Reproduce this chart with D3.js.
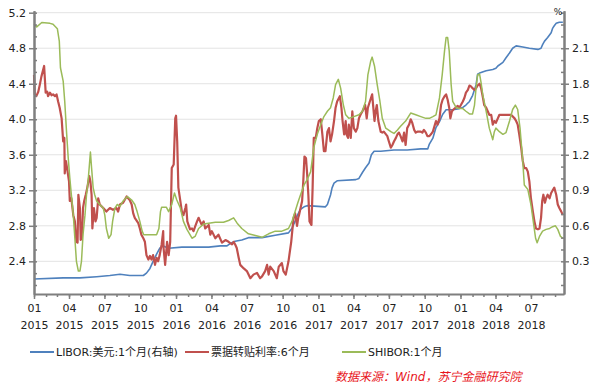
<!DOCTYPE html>
<html><head><meta charset="utf-8">
<script src="https://cdn.jsdelivr.net/npm/d3@7"></script>
<style>
body{margin:0;background:#fff;}
text{font-family:"DejaVu Sans","Noto Sans CJK SC",sans-serif;}
</style>
</head><body>
<svg id="c" width="601" height="384"></svg>
<script>
// ---------- DATA ----------
const seriesNames = ["LIBOR:美元:1个月(右轴)", "票据转贴利率:6个月", "SHIBOR:1个月"];
const leftTicks = [2.4, 2.8, 3.2, 3.6, 4.0, 4.4, 4.8, 5.2];
const rightTicks = [0.3, 0.6, 0.9, 1.2, 1.5, 1.8, 2.1];
const sourceText = "数据来源：Wind，苏宁金融研究院";

const libor = [
["2015-01-01",0.15],["2015-03-17",0.16],["2015-04-29",0.16],["2015-06-11",0.17],["2015-07-15",0.18],
["2015-08-10",0.19],["2015-09-04",0.18],["2015-10-09",0.18],["2015-10-17",0.20],["2015-10-26",0.24],
["2015-11-03",0.30],["2015-11-12",0.36],["2015-11-20",0.41],["2015-11-29",0.43],["2015-12-13",0.41],
["2016-01-16",0.42],["2016-02-19",0.42],["2016-03-25",0.42],["2016-04-24",0.43],["2016-05-11",0.43],
["2016-05-19",0.45],["2016-06-01",0.47],["2016-06-18",0.48],["2016-07-05",0.50],["2016-08-09",0.50],
["2016-09-12",0.52],["2016-10-16",0.54],["2016-10-25",0.58],["2016-11-02",0.64],["2016-11-08",0.69],
["2016-11-16",0.74],["2016-11-25",0.76],["2016-12-03",0.77],["2017-01-19",0.76],["2017-01-24",0.78],
["2017-01-28",0.82],["2017-02-01",0.86],["2017-02-05",0.92],["2017-02-10",0.96],["2017-02-18",0.98],
["2017-04-07",0.99],["2017-04-15",1.00],["2017-04-24",1.05],["2017-05-02",1.09],["2017-05-11",1.13],
["2017-05-17",1.20],["2017-05-24",1.23],["2017-06-10",1.23],["2017-07-14",1.24],["2017-08-17",1.24],
["2017-09-21",1.25],["2017-10-09",1.25],["2017-10-13",1.29],["2017-10-22",1.34],["2017-10-30",1.43],
["2017-11-08",1.48],["2017-11-16",1.54],["2017-11-25",1.58],["2017-12-12",1.58],["2017-12-29",1.59],
["2018-01-07",1.60],["2018-01-15",1.62],["2018-01-24",1.65],["2018-02-01",1.70],["2018-02-10",1.79],
["2018-02-14",1.88],["2018-02-19",1.89],["2018-03-08",1.91],["2018-03-25",1.92],["2018-04-02",1.93],
["2018-04-07",1.95],["2018-04-20",1.98],["2018-04-28",2.02],["2018-05-07",2.06],["2018-05-15",2.10],
["2018-05-24",2.12],["2018-06-10",2.11],["2018-06-27",2.10],["2018-07-19",2.09],["2018-07-27",2.10],
["2018-07-31",2.13],["2018-08-05",2.16],["2018-08-13",2.19],["2018-08-22",2.23],["2018-08-26",2.27],
["2018-08-30",2.29],["2018-09-04",2.31],["2018-09-12",2.32],["2018-09-21",2.32]
];

const billRate = [
["2015-01-01",4.50],["2015-01-03",4.28],["2015-01-07",4.26],["2015-01-12",4.31],["2015-01-16",4.39],
["2015-01-20",4.48],["2015-01-27",4.60],["2015-01-31",4.30],["2015-02-04",4.31],["2015-02-06",4.26],
["2015-02-11",4.30],["2015-02-15",4.27],["2015-02-19",4.28],["2015-02-24",4.26],["2015-02-28",4.28],
["2015-03-04",4.20],["2015-03-08",4.13],["2015-03-13",4.01],["2015-03-17",3.75],["2015-03-20",3.79],
["2015-03-21",3.39],["2015-03-24",3.53],["2015-03-27",3.45],["2015-04-01",3.30],["2015-04-03",3.08],
["2015-04-07",3.11],["2015-04-12",2.92],["2015-04-16",2.85],["2015-04-20",2.62],["2015-04-23",2.61],
["2015-04-25",3.15],["2015-04-29",3.00],["2015-05-01",2.64],["2015-05-04",2.66],["2015-05-07",3.00],
["2015-05-10",3.08],["2015-05-14",3.15],["2015-05-18",3.23],["2015-05-23",3.36],["2015-05-26",3.30],
["2015-05-29",3.15],["2015-05-31",2.77],["2015-06-04",3.00],["2015-06-08",2.85],["2015-06-11",2.89],
["2015-06-15",3.11],["2015-06-19",3.04],["2015-06-28",3.00],["2015-07-06",2.96],["2015-07-15",3.00],
["2015-07-23",2.98],["2015-08-01",3.00],["2015-08-05",2.96],["2015-08-10",3.04],["2015-08-18",3.06],
["2015-08-27",3.13],["2015-09-04",3.09],["2015-09-09",3.04],["2015-09-13",2.94],["2015-09-17",2.89],
["2015-09-26",2.83],["2015-09-30",2.77],["2015-10-04",2.70],["2015-10-09",2.66],["2015-10-13",2.62],
["2015-10-17",2.47],["2015-10-22",2.42],["2015-10-26",2.46],["2015-10-30",2.42],["2015-11-03",2.47],
["2015-11-08",2.36],["2015-11-12",2.44],["2015-11-16",2.40],["2015-11-20",2.47],["2015-11-25",2.59],
["2015-11-29",2.74],["2015-11-30",2.55],["2015-12-04",2.36],["2015-12-09",2.62],["2015-12-13",2.47],
["2015-12-17",2.62],["2015-12-21",3.45],["2015-12-26",3.49],["2015-12-30",4.01],["2016-01-01",4.04],
["2016-01-04",3.75],["2016-01-07",3.23],["2016-01-12",3.08],["2016-01-16",2.96],["2016-01-20",2.92],
["2016-01-25",3.00],["2016-01-27",3.04],["2016-01-30",2.85],["2016-02-02",2.81],["2016-02-06",2.76],
["2016-02-11",2.77],["2016-02-15",2.74],["2016-02-19",2.79],["2016-02-24",2.85],["2016-02-28",2.89],
["2016-03-03",2.85],["2016-03-07",2.81],["2016-03-12",2.85],["2016-03-16",2.77],["2016-03-25",2.81],
["2016-03-29",2.70],["2016-04-02",2.74],["2016-04-11",2.66],["2016-04-19",2.70],["2016-04-28",2.61],
["2016-05-07",2.64],["2016-05-15",2.62],["2016-05-24",2.59],["2016-05-28",2.62],["2016-06-01",2.59],
["2016-06-05",2.55],["2016-06-10",2.44],["2016-06-14",2.36],["2016-06-23",2.32],["2016-07-01",2.29],
["2016-07-10",2.21],["2016-07-18",2.25],["2016-07-27",2.27],["2016-08-04",2.21],["2016-08-09",2.23],
["2016-08-17",2.29],["2016-08-22",2.36],["2016-08-26",2.25],["2016-08-30",2.34],["2016-09-08",2.29],
["2016-09-16",2.21],["2016-09-21",2.34],["2016-09-29",2.38],["2016-10-03",2.29],["2016-10-09",2.25],
["2016-10-16",2.40],["2016-10-23",2.62],["2016-10-29",2.89],["2016-11-02",2.94],["2016-11-07",2.80],
["2016-11-10",2.89],["2016-11-12",2.92],["2016-11-16",3.00],["2016-11-20",3.08],["2016-11-23",3.30],
["2016-11-26",3.58],["2016-11-30",3.56],["2016-12-03",3.38],["2016-12-06",3.15],["2016-12-09",2.85],
["2016-12-14",2.81],["2016-12-17",3.23],["2016-12-20",3.79],["2016-12-25",3.79],["2016-12-29",3.90],
["2017-01-02",3.98],["2017-01-07",4.00],["2017-01-11",3.83],["2017-01-15",3.64],["2017-01-19",3.64],
["2017-01-24",3.86],["2017-01-28",3.90],["2017-02-01",3.75],["2017-02-05",3.83],["2017-02-10",3.98],
["2017-02-14",4.13],["2017-02-18",4.20],["2017-02-25",4.26],["2017-03-01",4.13],["2017-03-04",3.98],
["2017-03-08",3.83],["2017-03-12",3.98],["2017-03-14",3.83],["2017-03-18",3.79],["2017-03-20",3.94],
["2017-03-25",3.79],["2017-03-29",4.09],["2017-04-02",3.90],["2017-04-07",3.86],["2017-04-11",3.90],
["2017-04-15",4.01],["2017-04-19",4.05],["2017-04-24",4.09],["2017-04-28",4.13],["2017-05-01",4.16],
["2017-05-05",4.01],["2017-05-08",4.13],["2017-05-13",4.20],["2017-05-19",4.28],["2017-05-22",4.13],
["2017-05-25",3.98],["2017-05-28",4.09],["2017-05-31",4.16],["2017-06-04",3.98],["2017-06-10",3.86],
["2017-06-14",3.85],["2017-06-18",3.86],["2017-06-27",3.81],["2017-07-01",3.75],["2017-07-06",3.68],
["2017-07-10",3.71],["2017-07-14",3.75],["2017-07-19",3.79],["2017-07-23",3.83],["2017-07-27",3.85],
["2017-07-31",3.81],["2017-08-05",3.75],["2017-08-09",3.85],["2017-08-13",3.71],["2017-08-17",3.90],
["2017-08-22",3.94],["2017-08-26",4.00],["2017-08-30",3.96],["2017-09-04",3.88],["2017-09-08",3.85],
["2017-09-12",3.86],["2017-09-21",3.86],["2017-09-25",3.85],["2017-09-29",3.88],["2017-10-04",3.85],
["2017-10-08",3.81],["2017-10-13",3.81],["2017-10-17",3.83],["2017-10-22",3.86],["2017-10-26",3.92],
["2017-10-30",3.98],["2017-11-03",3.94],["2017-11-08",4.01],["2017-11-12",4.16],["2017-11-16",4.22],
["2017-11-21",4.26],["2017-11-25",4.28],["2017-11-29",4.22],["2017-12-03",4.13],["2017-12-06",4.01],
["2017-12-10",4.09],["2017-12-14",4.11],["2017-12-19",4.13],["2017-12-25",4.15],["2017-12-29",4.13],
["2018-01-02",4.16],["2018-01-07",4.20],["2018-01-11",4.24],["2018-01-15",4.30],["2018-01-20",4.33],
["2018-01-24",4.38],["2018-01-28",4.37],["2018-02-01",4.35],["2018-02-06",4.33],["2018-02-10",4.35],
["2018-02-14",4.38],["2018-02-19",4.40],["2018-02-23",4.35],["2018-02-27",4.26],["2018-03-03",4.16],
["2018-03-08",4.13],["2018-03-12",4.09],["2018-03-16",4.05],["2018-03-21",4.05],["2018-03-25",3.94],
["2018-03-29",3.98],["2018-04-02",3.96],["2018-04-07",4.01],["2018-04-11",4.05],["2018-04-20",4.05],
["2018-04-28",4.05],["2018-05-11",4.05],["2018-05-20",4.01],["2018-05-24",3.98],["2018-05-28",3.94],
["2018-06-01",3.83],["2018-06-06",3.68],["2018-06-10",3.53],["2018-06-14",3.45],["2018-06-19",3.45],
["2018-06-23",3.41],["2018-06-27",3.30],["2018-07-01",3.11],["2018-07-06",2.96],["2018-07-10",2.85],
["2018-07-14",2.77],["2018-07-19",2.76],["2018-07-23",2.77],["2018-07-27",2.89],["2018-07-30",3.08],
["2018-08-02",3.15],["2018-08-06",3.06],["2018-08-09",3.11],["2018-08-13",3.15],["2018-08-18",3.11],
["2018-08-22",3.17],["2018-08-26",3.20],["2018-08-30",3.23],["2018-09-04",3.15],["2018-09-08",3.04],
["2018-09-12",3.00],["2018-09-17",2.96],["2018-09-21",2.92]
];

const shibor = [
["2015-01-01",5.07],["2015-01-08",5.04],["2015-01-21",5.09],["2015-02-11",5.08],["2015-02-19",5.07],
["2015-03-02",5.02],["2015-03-07",4.88],["2015-03-10",4.58],["2015-03-17",4.43],["2015-03-21",4.20],
["2015-03-26",3.83],["2015-03-30",3.56],["2015-04-03",3.34],["2015-04-07",3.15],["2015-04-12",2.92],
["2015-04-16",2.66],["2015-04-20",2.40],["2015-04-25",2.29],["2015-04-29",2.29],["2015-05-03",2.40],
["2015-05-07",2.70],["2015-05-12",2.92],["2015-05-16",3.15],["2015-05-20",3.30],["2015-05-26",3.63],
["2015-05-29",3.45],["2015-06-02",3.23],["2015-06-06",3.15],["2015-06-11",3.08],["2015-06-19",3.04],
["2015-06-28",3.00],["2015-07-02",2.92],["2015-07-06",2.77],["2015-07-12",2.66],["2015-07-18",2.70],
["2015-07-22",2.85],["2015-07-28",3.00],["2015-08-03",3.04],["2015-08-10",3.02],["2015-08-18",3.08],
["2015-08-29",3.13],["2015-09-09",3.09],["2015-09-17",3.04],["2015-09-23",2.96],["2015-09-30",2.85],
["2015-10-06",2.74],["2015-10-10",2.70],["2015-11-12",2.70],["2015-11-18",2.77],["2015-11-22",2.96],
["2015-11-25",3.01],["2015-12-07",3.01],["2015-12-13",2.96],["2015-12-21",3.04],["2015-12-28",3.17],
["2016-01-03",3.09],["2016-01-12",3.00],["2016-01-20",2.85],["2016-01-29",2.76],["2016-02-11",2.66],
["2016-02-19",2.68],["2016-02-28",2.77],["2016-03-12",2.82],["2016-03-25",2.83],["2016-04-11",2.84],
["2016-05-02",2.84],["2016-05-15",2.86],["2016-05-28",2.89],["2016-06-06",2.83],["2016-06-18",2.77],
["2016-07-05",2.71],["2016-07-23",2.69],["2016-08-09",2.67],["2016-08-26",2.71],["2016-09-12",2.74],
["2016-09-29",2.74],["2016-10-16",2.77],["2016-10-25",2.85],["2016-11-02",2.96],["2016-11-09",3.06],
["2016-11-16",3.15],["2016-11-25",3.26],["2016-12-03",3.32],["2016-12-12",3.41],["2016-12-20",3.68],
["2016-12-29",3.83],["2017-01-07",3.94],["2017-01-15",4.03],["2017-01-24",4.09],["2017-02-01",4.13],
["2017-02-08",4.24],["2017-02-14",4.39],["2017-02-21",4.45],["2017-02-27",4.35],["2017-03-06",4.16],
["2017-03-12",4.05],["2017-03-20",4.01],["2017-04-02",4.03],["2017-04-15",4.05],["2017-04-24",4.09],
["2017-05-02",4.20],["2017-05-08",4.50],["2017-05-15",4.65],["2017-05-19",4.70],["2017-05-25",4.60],
["2017-06-01",4.39],["2017-06-08",4.20],["2017-06-14",4.01],["2017-06-23",3.90],["2017-07-06",3.86],
["2017-07-14",3.84],["2017-07-23",3.88],["2017-07-31",3.92],["2017-08-13",3.98],["2017-08-26",4.07],
["2017-09-08",4.05],["2017-09-21",4.03],["2017-10-04",4.01],["2017-10-13",4.01],["2017-10-22",4.03],
["2017-10-30",4.05],["2017-11-08",4.24],["2017-11-15",4.50],["2017-11-21",4.77],["2017-11-25",4.92],
["2017-11-29",4.92],["2017-12-03",4.77],["2017-12-08",4.39],["2017-12-12",4.20],["2017-12-21",4.13],
["2017-12-29",4.12],["2018-01-07",4.12],["2018-01-15",4.09],["2018-01-24",4.06],["2018-02-01",4.06],
["2018-02-06",4.16],["2018-02-10",4.35],["2018-02-14",4.50],["2018-02-19",4.51],["2018-02-23",4.41],
["2018-02-27",4.28],["2018-03-08",4.09],["2018-03-16",3.90],["2018-03-25",3.77],["2018-03-29",3.86],
["2018-04-02",3.90],["2018-04-11",3.86],["2018-04-20",3.83],["2018-04-28",3.85],["2018-05-07",3.98],
["2018-05-15",4.11],["2018-05-22",4.16],["2018-05-28",4.11],["2018-06-03",3.90],["2018-06-10",3.53],
["2018-06-14",3.26],["2018-06-23",3.21],["2018-07-01",3.04],["2018-07-07",2.85],["2018-07-13",2.66],
["2018-07-17",2.61],["2018-07-23",2.68],["2018-07-31",2.74],["2018-08-09",2.76],["2018-08-18",2.77],
["2018-08-26",2.79],["2018-09-02",2.80],["2018-09-08",2.76],["2018-09-15",2.68],["2018-09-21",2.66]
];

// ---------- CHART ----------
const colors = ["#4F81BD", "#C0504D", "#9BBB59"];
const parse = d3.timeParse("%Y-%m-%d");
const L = 34, R = 564, T = 10.7, B = 294;
const axisColor = "#7f7f7f";

const svg = d3.select("#c");
const x = d3.scaleTime().domain([parse("2015-01-01"), parse("2018-09-24")]).range([L, R]);
const yL = d3.scaleLinear().domain([2.032, 5.2225]).range([B, T]);
const yR = d3.scaleLinear().domain([0.0238, 2.417]).range([B, T]);

// grid
svg.append("g").selectAll("line").data(leftTicks).join("line")
  .attr("x1", L).attr("x2", R)
  .attr("y1", d => yL(d)).attr("y2", d => yL(d))
  .attr("stroke", "#e3e3e3").attr("stroke-width", 1);

// lines
const lineL = d3.line().x(d => x(parse(d[0]))).y(d => yL(d[1]));
const lineR = d3.line().x(d => x(parse(d[0]))).y(d => yR(d[1]));
svg.append("path").datum(libor).attr("d", lineR).attr("fill", "none")
  .attr("stroke", colors[0]).attr("stroke-width", 1.6).attr("stroke-linejoin", "round");
svg.append("path").datum(billRate).attr("d", lineL).attr("fill", "none")
  .attr("stroke", colors[1]).attr("stroke-width", 2.2).attr("stroke-linejoin", "round");
svg.append("path").datum(shibor).attr("d", lineL).attr("fill", "none")
  .attr("stroke", colors[2]).attr("stroke-width", 1.5).attr("stroke-linejoin", "round");

function styleAxis(g) {
  g.select(".domain").attr("stroke", axisColor).attr("stroke-width", 2);
  g.selectAll(".tick line").attr("stroke", axisColor).attr("stroke-width", 1.5);
  g.selectAll("text").attr("fill", "#222").style("font-size", "11px")
    .style("font-family", "'DejaVu Sans', sans-serif");
}

// left axis: minor (inside) + major (outside)
const leftMinor = d3.range(2.4 - 2 * 0.4 / 3, 5.21, 0.4 / 3).filter(v => v > 2.04);
svg.append("g").attr("transform", `translate(${L},0)`)
  .call(d3.axisRight(yL).tickValues(leftMinor).tickSize(3).tickSizeOuter(0).tickFormat(""))
  .call(styleAxis);
svg.append("g").attr("transform", `translate(${L},0)`)
  .call(d3.axisLeft(yL).tickValues(leftTicks).tickSize(5).tickSizeOuter(0).tickPadding(3)
    .tickFormat(d3.format(".1f")))
  .call(styleAxis);

// right axis
const rightMinor = d3.range(0.1, 2.41, 0.1);
svg.append("g").attr("transform", `translate(${R},0)`)
  .call(d3.axisLeft(yR).tickValues(rightMinor).tickSize(3).tickSizeOuter(0).tickFormat(""))
  .call(styleAxis);
svg.append("g").attr("transform", `translate(${R},0)`)
  .call(d3.axisRight(yR).tickValues(rightTicks).tickSize(5).tickSizeOuter(0).tickPadding(3)
    .tickFormat(d3.format(".1f")))
  .call(styleAxis);

svg.append("text").attr("x", 558).attr("y", 15).attr("text-anchor", "middle")
  .style("font-size", "9px").attr("fill", "#222").text("%");

// bottom axis
const months = d3.timeMonth.range(parse("2015-01-01"), parse("2018-09-24"));
const quarters = months.filter(d => d.getMonth() % 3 === 0);
svg.append("g").attr("transform", `translate(0,${B})`)
  .call(d3.axisBottom(x).tickValues(months).tickSize(3).tickSizeOuter(0).tickFormat(""))
  .call(styleAxis);
const xg = svg.append("g").attr("transform", `translate(0,${B})`)
  .call(d3.axisBottom(x).tickValues(quarters).tickSize(5).tickSizeOuter(0)
    .tickFormat(d3.timeFormat("%m")))
  .call(styleAxis);
xg.select(".domain").remove();
xg.selectAll(".tick text").each(function(d) {
  const t = d3.select(this);
  t.text(null).attr("y", 0).attr("dy", null);
  t.append("tspan").attr("x", 0).attr("y", 18).text(d3.timeFormat("%m")(d));
  t.append("tspan").attr("x", 0).attr("y", 35).text(d3.timeFormat("%Y")(d));
});

// legend
const legX = [30, 185, 342];
const lg = svg.append("g");
seriesNames.forEach((n, i) => {
  lg.append("line").attr("x1", legX[i]).attr("x2", legX[i] + 24)
    .attr("y1", 352).attr("y2", 352).attr("stroke", colors[i]).attr("stroke-width", 2);
  lg.append("text").attr("x", legX[i] + 26).attr("y", 356)
    .style("font-size", "11px").attr("fill", "#222").text(n);
});

svg.append("text").attr("x", 335).attr("y", 381)
  .style("font-size", "12px").style("font-style", "italic").attr("fill", "#e8141b")
  .text(sourceText);
</script>
</body></html>
